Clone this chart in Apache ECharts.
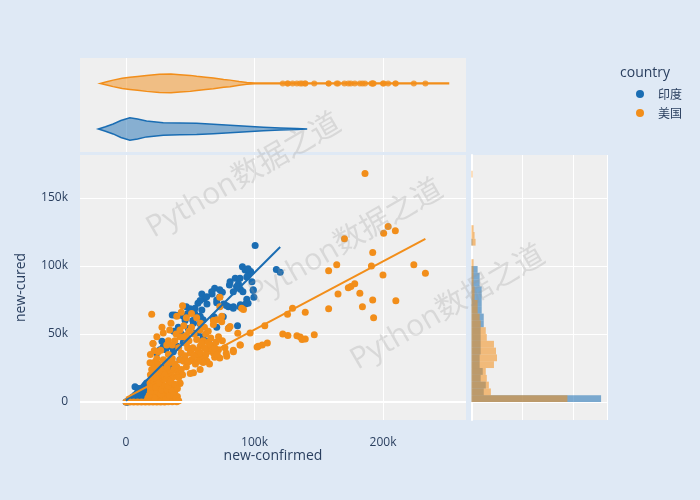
<!DOCTYPE html>
<html><head><meta charset="utf-8">
<script src="https://cdn.jsdelivr.net/npm/echarts@6/dist/echarts.min.js"></script>
<style>html,body{margin:0;padding:0;background:#dfe9f5}#c{width:700px;height:500px}</style>
</head><body><div id="c"></div><script>
// ---------- data (values in thousands) ----------
const seriesNames = ['印度', '美国'];
const legendTitle = 'country';
const xName = 'new-confirmed';
const yName = 'new-cured';
const xTicks = [0, 100, 200];
const yTicks = [0, 50, 100, 150];
const watermark = 'Python数据之道';

// India scatter points [new-confirmed, new-cured]
const indiaPts = [
 [100.5,115],[117,97.5],[120,95.5],[90.6,99.5],[92.7,97],[95,93],[97,96],[85,91],[80.5,86],[87.5,87],[89,83],
 [99,82.5],[99.5,77],[94,75.6],[69,83.7],[73,82.5],[75,80.7],[67,79.5],[59,79.5],[61,76],[57.7,74.6],[56,72.7],
 [70.6,73],[76,72],[79.7,70],[83.6,70],[89,71.5],[93,72],[63,72],[47,70],[50,68.5],[36,64],[40,63.6],[44.7,63],
 [48,65],[53.5,65],[57.7,63],[60,60.5],[68,61.7],[52.5,58],[57.7,57.5],[86.8,56],[80,54.4],[37,52],[43,50],
 [47,48],[56,51],[64,44.6],[28,44.6],[31.7,43.4],[34,41],[31,38.5],[37,38.5],[40,41],[24,36],[26.5,38.5],[29,24.6],
 [7,11.3],[9.6,10],[12,10],[14.8,12.5],[16,14],[95,98],[94,92],[98,88.5],[99,82],[86,85],[88.7,91],[81,88.5],
 [83.5,81],[91,81],[70.6,75],[78,71],[83.5,69],[88.7,70],[95,72.6],[46,60],[52,60],[57.6,62.7],[40.7,55],[48.5,54],
 [53.7,50.5],[60,48],[44.6,44],[36.8,37],[42,31],[70.6,55],[68.5,62.7],[75.7,62.7],[73,77.4],[62.8,77.4],[66.7,81],
 [59,67.6],[53.7,69],[38,64],[43,64],[29,40.7],[35.6,26],
 [0,0],[0.5,0],[1,0.1],[1.5,0.3],[2,0.5],[3,1],[4,1.5],[5,2],[6,3],[8,4],[10,5],[12,6],[14,7],[15,9],[17,10],
 [19,12],[21,15],[23,17],[25,19],[27,21],[30,25],[32,28],[4,0.5],[6,1],[8,1.5],[10,2],[12,3],[14,4],[16,5],
 [18,7],[20,9],[11,8],[13,9],[9,7],[7,5],[5,3.5],[3,2]
];
// USA scatter points [new-confirmed, new-cured]
const usPts = [
 [186,168],[204,129],[200.5,124],[209.6,126],[170,120],[192,110],[164,101],[157.7,96.6],[191,100],[224,101],
 [200,93.4],[233,94.6],[175,85],[178,87],[173,84],[182,80],[165,79.5],[192,75],[210,74.4],[184,70],[157.7,68.5],
 [129.6,69],[139.5,66],[125.7,64.6],[192.7,62],[108,56],[122,50],[126,49],[133,48.8],[135.6,47.8],[137,45.9],
 [139.5,46.3],[146.5,49.5],[96.6,50.7],[103,41],[106,42],[110,43.4],[102,40.5],[89,42],[83.6,37],[78.4,33.6],
 [91.4,68],[73,77],[20,64.6],[73,70],[70.6,60.5],[68,57],[74.5,63],[81,55.6],[44,70.7],[51,65],[39.5,63],[34,53],
 [24,48],[29,50.7],[31.7,42],[42,48],[21,43],[22,37.8],[18.7,28.8],[24,24],[20,16.6],[47,43],[51,38.5],[57.7,41],
 [63,38.5],[68,36],[72,38.5],[73,32.4],[61.5,33.7],[42,31],[47,26],[37,24],[52.5,21.5],[57.7,24],[31.7,19],[42,14],
 [37,11.7],[18.7,14],[21,9],[24,4.4],[29,4.4],[31.7,6.8],[37,2],[26.5,0.7],[16,0.7],
 [42,53],[51,55],[47,49],[57.6,53],[68,60],[74.5,59],[79.6,54],[87,50.5],[90,69],[88.7,42],[78,35.8],[83.5,38],
 [69,33],[65,28],[43,35.8],[51,31],[57.6,32],[39.5,26],[50,21],[42,13.7],[36.8,18.6],[21,43],[25,37],[29,31],
 [21,28.5],[31.7,23.5],[26.5,18.6],[34,11],[20,18.6],[18.7,11],[22.5,6.4],[29,3.9],[35.6,1.5],[39.5,0.2],
 [0,0],[3,0],[6,0],[9,0],[12,0],[15,0],[18,0],[21,0],[24,0],[27,0.1],[30,0.1],[33,0.2],[36,0.3],
 [20,2],[22,3],[25,8],[27,12],[23,20],[26,26],[28,14],[33,16],[35,21],[38,8],[40,4],[45,30],[55,35],[60,45],[65,40],
 [55,46],[62,50],[48,40],[38,45],[33,35],[30,30],[45,56],[58,58],[64,52],
 [17,3],[18,5],[19,8],[20,11],[21,13],[22,15],[23,11],[24,17],[25,22],[26,14],[27,6],[28,9],[29,17],[30,12],
 [31,2],[32,9],[33,12],[34,5],[35,15],[36,8],[37,5],[38,13],[39,3],[40,10],[41,1],[19,20],[20,24],[22,26],
 [23,30],[25,28],[27,25],[28,22],[30,20],[32,26],[34,29],[36,32],[38,28],[40,22],[41,18],[43,24],[44,20],[46,34],
 [48,30],[50,36],[52,40],[53,34],[54,28],[56,38],[58,36],[59,43],[61,40],[62,35],[64,44],[66,42],[67,38],[69,40],
 [70,44],[71,35],[63,30],[60,29],[56,30],[49,45],[45,48],[41,40],[36,42],[33,45],[27,38],[24,32],[19,35],
 [66,47],[72,48],[75,45],[77,40],[53,50],[61,55],[49,52],[39,50],[35,58],[28,55],[47,62],[55,62],[43,66]
];
// OLS trendline end points
const indiaTrend = [[0, 1], [120, 114]];
const usTrend = [[0, 3], [233, 120]];

// marginal histogram of new-cured: bin width 5k, counts per bin (from 0)
const histBinWidth = 5;
const indiaHist = [127,12,14,9,11,8,8,9,9,9,9,12,12,10,10,10,10,8,8,6,0,0,0,1];
const usHist = [94,19,17,15,14,22,25,24,22,15,14,9,8,6,6,3,3,2,2,2,2,0,0,4,3,2,0,0,0,0,0,0,0,1];

// marginal violin of new-confirmed: [x, relative density]
const indiaViolin = [[-21.5,0],[-16,0.2],[-10,0.44],[-4,0.75],[3,1],[9,0.88],[16,0.7],[29,0.56],[42,0.52],[55,0.5],
 [68,0.42],[81,0.33],[94,0.24],[107,0.15],[120,0.09],[133,0.045],[141,0]];
const usViolin = [[-20,0],[-15,0.17],[-10,0.35],[-3,0.55],[3,0.65],[9,0.75],[16,0.86],[26,0.97],[35,1],[42,0.94],
 [50,0.86],[55,0.76],[62,0.66],[68,0.57],[76,0.42],[81,0.35],[88,0.19],[94,0.1],[100,0.05],[120,0.04],[251,0.04]];
const outlierCut = 118;

// ---------- chart ----------
const colors = ['#1a6db3', '#f28e1a'];
const fills = ['rgba(31,111,180,0.5)', 'rgba(242,142,26,0.5)'];
const txt = '#2a3f5f';
const grid = '#ffffff';
const plotBg = '#efefef';
const fmtK = v => v === 0 ? '0' : v + 'k';

function histData(counts) {
  return counts.map((c, i) => [i * histBinWidth, (i + 1) * histBinWidth, c]);
}
function violinSeries(profile, center, maxHalf, idx) {
  return {
    type: 'custom', xAxisIndex: 1, yAxisIndex: 1, silent: true,
    data: [[profile[0][0], center]],
    renderItem: function (params, api) {
      const top = [], bot = [];
      profile.forEach(p => {
        const c = api.coord([p[0], center]);
        top.push([c[0], c[1] - p[1] * maxHalf]);
        bot.push([c[0], c[1] + p[1] * maxHalf]);
      });
      const pts = top.concat(bot.reverse());
      return { type: 'polygon', shape: { points: pts },
        style: { fill: fills[idx], stroke: colors[idx], lineWidth: 1.5 } };
    },
    z: 2
  };
}
function histSeries(counts, idx) {
  return {
    type: 'custom', xAxisIndex: 2, yAxisIndex: 2, silent: true,
    data: histData(counts),
    encode: { x: 2, y: [0, 1] },
    renderItem: function (params, api) {
      const p0 = api.coord([0, api.value(0)]);
      const p1 = api.coord([api.value(2), api.value(1)]);
      return { type: 'rect', shape: { x: p0[0], y: p1[1], width: p1[0] - p0[0], height: p0[1] - p1[1] },
        style: { fill: colors[idx], opacity: 0.55 } };
    },
    z: 2
  };
}

const X_MIN = -35.8, X_MAX = 264.6, Y_MIN = -13.2, Y_MAX = 181.6;
const splitStyle = { show: true, lineStyle: { color: grid, width: 1 } };

const chart = echarts.init(document.getElementById('c'), null, { renderer: 'canvas' });
chart.setOption({
  backgroundColor: '#dfe9f5',
  animation: false,
  textStyle: { fontFamily: '"Open Sans", "Noto Sans CJK SC", sans-serif' },
  legend: {
    orient: 'vertical', left: 631, top: 83, itemWidth: 8, itemHeight: 8, itemGap: 7,
    icon: 'circle', data: seriesNames,
    textStyle: { color: txt, fontSize: 12, padding: [0, 0, 0, 9], fontFamily: '"Noto Sans CJK SC", sans-serif' }
  },
  grid: [
    { left: 80, top: 155, width: 386, height: 265, backgroundColor: plotBg, show: true, borderWidth: 0 },
    { left: 80, top: 58, width: 386, height: 94, backgroundColor: plotBg, show: true, borderWidth: 0 },
    { left: 471.5, top: 155, width: 135.5, height: 265, backgroundColor: plotBg, show: true, borderWidth: 0 }
  ],
  xAxis: [
    { type: 'value', gridIndex: 0, min: X_MIN, max: X_MAX, name: xName, nameLocation: 'middle', nameGap: 29,
      nameMoveOverlap: false,
      nameTextStyle: { color: txt, fontSize: 14 },
      axisLine: { show: false }, axisTick: { show: false, customValues: xTicks },
      axisLabel: { customValues: xTicks, formatter: fmtK, color: txt, fontSize: 12, margin: 17 },
      splitLine: splitStyle },
    { type: 'value', gridIndex: 1, min: X_MIN, max: X_MAX,
      axisLine: { show: false }, axisTick: { show: false, customValues: xTicks },
      axisLabel: { show: false, customValues: xTicks }, splitLine: splitStyle },
    { type: 'value', gridIndex: 2, min: 0, max: 132.8, interval: 50,
      axisLine: { show: false }, axisTick: { show: false }, axisLabel: { show: false }, splitLine: splitStyle }
  ],
  yAxis: [
    { type: 'value', gridIndex: 0, min: Y_MIN, max: Y_MAX, name: yName, nameLocation: 'middle', nameGap: 52,
      nameTextStyle: { color: txt, fontSize: 14 },
      axisLine: { show: false }, axisTick: { show: false, customValues: yTicks },
      axisLabel: { customValues: yTicks, formatter: fmtK, color: txt, fontSize: 12, margin: 12 },
      splitLine: splitStyle },
    { type: 'value', gridIndex: 1, min: 0, max: 1,
      axisLine: { show: false }, axisTick: { show: false }, axisLabel: { show: false }, splitLine: { show: false } },
    { type: 'value', gridIndex: 2, min: Y_MIN, max: Y_MAX,
      axisLine: { show: true, onZero: false, lineStyle: { color: grid, width: 2 } },
      axisTick: { show: false, customValues: yTicks },
      axisLabel: { show: false, customValues: yTicks }, splitLine: splitStyle }
  ],
  series: [
    { name: seriesNames[0], type: 'scatter', xAxisIndex: 0, yAxisIndex: 0, data: indiaPts, symbolSize: 7,
      itemStyle: { color: colors[0], opacity: 1 }, z: 3,
      markLine: { silent: true, symbol: 'none', label: { show: false },
        lineStyle: { color: grid, width: 2, type: 'solid' }, data: [{ yAxis: 0 }] } },
    { name: seriesNames[1], type: 'scatter', xAxisIndex: 0, yAxisIndex: 0, data: usPts, symbolSize: 7,
      itemStyle: { color: colors[1], opacity: 1 }, z: 4 },
    { type: 'line', xAxisIndex: 0, yAxisIndex: 0, data: indiaTrend, showSymbol: false, silent: true,
      lineStyle: { color: colors[0], width: 2 }, z: 5 },
    { type: 'line', xAxisIndex: 0, yAxisIndex: 0, data: usTrend, showSymbol: false, silent: true,
      lineStyle: { color: colors[1], width: 2 }, z: 5 },
    violinSeries(usViolin, 0.73, 9.3, 1),
    violinSeries(indiaViolin, 0.245, 11.3, 0),
    { type: 'scatter', xAxisIndex: 1, yAxisIndex: 1, silent: true, symbolSize: 6,
      data: usPts.filter(p => p[0] > outlierCut).map(p => [p[0], 0.73]),
      itemStyle: { color: colors[1] }, z: 3 },
    histSeries(indiaHist, 0),
    histSeries(usHist, 1)
  ],
  graphic: [
    { type: 'text', left: 620, top: 66, style: { text: legendTitle, fill: txt, font: '14px "Open Sans", sans-serif' } },
    ...[[244, 176], [346, 242], [448, 308]].map(c => ({
      type: 'text', x: c[0], y: c[1], rotation: Math.PI / 6, z: 100, silent: true,
      style: { text: watermark, fill: 'rgba(150,150,150,0.26)', align: 'center', verticalAlign: 'middle',
        font: '30px "Open Sans", "Noto Sans CJK SC", sans-serif' }
    }))
  ]
});
</script></body></html>
